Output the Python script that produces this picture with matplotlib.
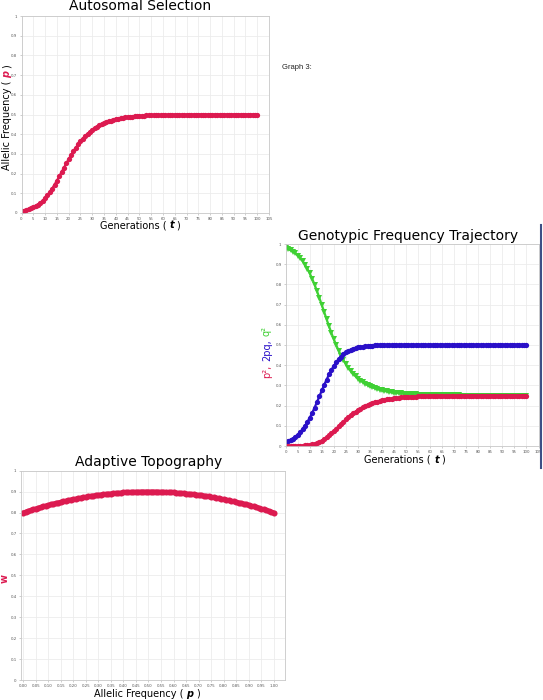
import matplotlib
matplotlib.use("Agg")
import matplotlib.pyplot as plt

# allele frequency p per generation (Autosomal Selection)
generations = list(range(0, 101))
p_freq = [
    0.010, 0.012, 0.015, 0.019, 0.023, 0.029, 0.035, 0.043, 0.052, 0.063,
    0.076, 0.090, 0.106, 0.124, 0.144, 0.164, 0.186, 0.208, 0.230, 0.252,
    0.273, 0.294, 0.313, 0.331, 0.348, 0.364, 0.378, 0.391, 0.402, 0.413,
    0.422, 0.431, 0.438, 0.445, 0.451, 0.456, 0.461, 0.466, 0.469, 0.473,
    0.476, 0.478, 0.481, 0.483, 0.485, 0.487, 0.488, 0.489, 0.491, 0.492,
    0.493, 0.493, 0.494, 0.495, 0.495, 0.496, 0.496, 0.497, 0.497, 0.497,
    0.498, 0.498, 0.498, 0.498, 0.499, 0.499, 0.499, 0.499, 0.499, 0.499,
    0.499, 0.499, 0.499, 0.500, 0.500, 0.500, 0.500, 0.500, 0.500, 0.500,
    0.500, 0.500, 0.500, 0.500, 0.500, 0.500, 0.500, 0.500, 0.500, 0.500,
    0.500, 0.500, 0.500, 0.500, 0.500, 0.500, 0.500, 0.500, 0.500, 0.500,
    0.500,
]

# genotype frequencies (Genotypic Frequency Trajectory)
p_sq = [
    0.000, 0.000, 0.000, 0.000, 0.001, 0.001, 0.001, 0.002, 0.003, 0.004,
    0.006, 0.008, 0.011, 0.015, 0.021, 0.027, 0.035, 0.043, 0.053, 0.064,
    0.075, 0.086, 0.098, 0.110, 0.121, 0.132, 0.143, 0.153, 0.162, 0.170,
    0.178, 0.185, 0.192, 0.198, 0.203, 0.208, 0.213, 0.217, 0.220, 0.223,
    0.226, 0.229, 0.231, 0.233, 0.235, 0.237, 0.238, 0.239, 0.241, 0.242,
    0.243, 0.243, 0.244, 0.245, 0.245, 0.246, 0.246, 0.247, 0.247, 0.247,
    0.248, 0.248, 0.248, 0.248, 0.249, 0.249, 0.249, 0.249, 0.249, 0.249,
    0.249, 0.249, 0.249, 0.250, 0.250, 0.250, 0.250, 0.250, 0.250, 0.250,
    0.250, 0.250, 0.250, 0.250, 0.250, 0.250, 0.250, 0.250, 0.250, 0.250,
    0.250, 0.250, 0.250, 0.250, 0.250, 0.250, 0.250, 0.250, 0.250, 0.250,
    0.250,
]
two_pq = [
    0.020, 0.025, 0.030, 0.037, 0.046, 0.056, 0.068, 0.083, 0.099, 0.119,
    0.140, 0.164, 0.190, 0.218, 0.246, 0.275, 0.303, 0.329, 0.354, 0.377,
    0.397, 0.415, 0.430, 0.443, 0.454, 0.463, 0.470, 0.476, 0.481, 0.485,
    0.488, 0.490, 0.492, 0.494, 0.495, 0.496, 0.497, 0.498, 0.498, 0.499,
    0.499, 0.499, 0.499, 0.499, 0.500, 0.500, 0.500, 0.500, 0.500, 0.500,
    0.500, 0.500, 0.500, 0.500, 0.500, 0.500, 0.500, 0.500, 0.500, 0.500,
    0.500, 0.500, 0.500, 0.500, 0.500, 0.500, 0.500, 0.500, 0.500, 0.500,
    0.500, 0.500, 0.500, 0.500, 0.500, 0.500, 0.500, 0.500, 0.500, 0.500,
    0.500, 0.500, 0.500, 0.500, 0.500, 0.500, 0.500, 0.500, 0.500, 0.500,
    0.500, 0.500, 0.500, 0.500, 0.500, 0.500, 0.500, 0.500, 0.500, 0.500,
    0.500,
]
q_sq = [
    0.980, 0.975, 0.969, 0.962, 0.954, 0.943, 0.930, 0.915, 0.898, 0.877,
    0.854, 0.828, 0.799, 0.767, 0.733, 0.698, 0.663, 0.627, 0.593, 0.559,
    0.528, 0.499, 0.472, 0.447, 0.425, 0.405, 0.387, 0.371, 0.357, 0.345,
    0.334, 0.324, 0.316, 0.308, 0.301, 0.295, 0.290, 0.286, 0.282, 0.278,
    0.275, 0.272, 0.270, 0.267, 0.265, 0.264, 0.262, 0.261, 0.260, 0.258,
    0.258, 0.257, 0.256, 0.255, 0.255, 0.254, 0.254, 0.253, 0.253, 0.253,
    0.252, 0.252, 0.252, 0.252, 0.251, 0.251, 0.251, 0.251, 0.251, 0.251,
    0.251, 0.251, 0.251, 0.250, 0.250, 0.250, 0.250, 0.250, 0.250, 0.250,
    0.250, 0.250, 0.250, 0.250, 0.250, 0.250, 0.250, 0.250, 0.250, 0.250,
    0.250, 0.250, 0.250, 0.250, 0.250, 0.250, 0.250, 0.250, 0.250, 0.250,
    0.250,
]

# mean fitness against allele frequency (Adaptive Topography)
allele_freq = [i / 100 for i in range(101)]
w_bar = [
    0.800, 0.804, 0.808, 0.812, 0.815, 0.819, 0.823, 0.826, 0.829, 0.833,
    0.836, 0.839, 0.842, 0.845, 0.848, 0.851, 0.854, 0.856, 0.859, 0.862,
    0.864, 0.866, 0.869, 0.871, 0.873, 0.875, 0.877, 0.879, 0.881, 0.882,
    0.884, 0.886, 0.887, 0.888, 0.890, 0.891, 0.892, 0.893, 0.894, 0.895,
    0.896, 0.897, 0.897, 0.898, 0.899, 0.899, 0.899, 0.900, 0.900, 0.900,
    0.900, 0.900, 0.900, 0.900, 0.899, 0.899, 0.899, 0.898, 0.897, 0.897,
    0.896, 0.895, 0.894, 0.893, 0.892, 0.891, 0.890, 0.888, 0.887, 0.886,
    0.884, 0.882, 0.881, 0.879, 0.877, 0.875, 0.873, 0.871, 0.869, 0.866,
    0.864, 0.862, 0.859, 0.856, 0.854, 0.851, 0.848, 0.845, 0.842, 0.839,
    0.836, 0.833, 0.829, 0.826, 0.823, 0.819, 0.815, 0.812, 0.808, 0.804,
    0.800,
]

gen_ticks = list(range(0, 106, 5))
y_ticks = [i / 10 for i in range(11)]
y_labels = ["0"] + ["%.1f" % v for v in y_ticks[1:-1]] + ["1"]
p_ticks = [i / 20 for i in range(21)]
p_labels = ["%.2f" % v for v in p_ticks]

RED = "#dc1a50"
BLUE = "#2a10c8"
GREEN = "#3fd034"
W, H = 543, 700

plt.rcParams["font.family"] = ["DejaVu Sans"]
fig = plt.figure(figsize=(W / 100, H / 100), dpi=100)


def px_axes(left, top, right, bottom):
    return fig.add_axes([left / W, 1 - bottom / H, (right - left) / W, (bottom - top) / H])


def style_axes(ax):
    ax.set_facecolor("white")
    for s in ax.spines.values():
        s.set_color("#c8c8c8")
        s.set_linewidth(0.6)
    ax.grid(True, color="#ececec", linewidth=0.6)
    ax.set_axisbelow(True)
    ax.tick_params(labelsize=2.8, labelcolor="#555555", length=1.5, width=0.4,
                   color="#aaaaaa", pad=1.5)
    ax.set_ylim(0, 1)
    ax.set_yticks(y_ticks)
    ax.set_yticklabels(y_labels)


def pieces_text(x, y, pieces, size, vertical=False):
    # draws text pieces one after another, centred on (x, y) in pixels from top-left
    r = fig.canvas.get_renderer()
    items = []
    for s, color, kw, gap in pieces:
        t = fig.text(0, 0, s, color=color, fontsize=size, rotation=90 if vertical else 0,
                     rotation_mode="anchor", ha="left", va="baseline", **kw)
        bb = t.get_window_extent(r)
        items.append((t, (bb.height if vertical else bb.width) + gap))
    total = sum(L for _, L in items) - pieces[-1][3]
    pos = -total / 2
    for t, L in items:
        if vertical:
            t.set_position((x / W, (H - y + pos) / H))
        else:
            t.set_position(((x + pos) / W, 1 - y / H))
        pos += L


bi = {"fontweight": "bold", "fontstyle": "italic"}

# Autosomal Selection
ax1 = px_axes(21.5, 16, 269, 213)
style_axes(ax1)
ax1.plot(generations, p_freq, color=RED, marker="o", markersize=3.8, linewidth=1.6,
         markeredgewidth=0)
ax1.set_xlim(0, 105)
ax1.set_xticks(gen_ticks)
fig.text(140 / W, 1 - 10 / H, "Autosomal Selection", fontsize=10, ha="center", va="baseline")
pieces_text(140, 228.5, [("Generations (", "black", {}, 3), ("t", "black", bi, 3),
                         (")", "black", {}, 0)], 7)
pieces_text(10, 117, [("Allelic Frequency (", "black", {}, 3), ("p", RED, bi, 3),
                      (")", "black", {}, 0)], 7, vertical=True)

fig.text(282 / W, 1 - 69 / H, "Graph 3:", fontsize=5.5, family="Liberation Sans",
         ha="left", va="baseline", color="#222222")

# Genotypic Frequency Trajectory
ax2 = px_axes(285.7, 244, 538.5, 446)
style_axes(ax2)
ax2.plot(generations, q_sq, color=GREEN, marker="v", markersize=3.8, linewidth=1.6,
         markeredgewidth=0)
ax2.plot(generations, two_pq, color=BLUE, marker="o", markersize=3.8, linewidth=1.6,
         markeredgewidth=0)
ax2.plot(generations, p_sq, color=RED, marker="o", markersize=3.8, linewidth=1.6,
         markeredgewidth=0)
ax2.set_xlim(0, 105)
ax2.set_xticks(gen_ticks)
fig.text(408 / W, 1 - 240 / H, "Genotypic Frequency Trajectory", fontsize=10,
         ha="center", va="baseline")
pieces_text(405, 463, [("Generations (", "black", {}, 3), ("t", "black", bi, 3),
                       (")", "black", {}, 0)], 7)
pieces_text(270, 352, [("p²,", RED, {}, 4), ("2pq,", BLUE, {}, 4), ("q²", GREEN, {}, 0)],
            7, vertical=True)
fig.add_artist(plt.Line2D([541 / W, 541 / W], [1 - 225 / H, 1 - 468 / H],
                          color="#3d4f86", linewidth=1.5))

# Adaptive Topography
ax3 = px_axes(20.7, 470.7, 285, 680)
style_axes(ax3)
ax3.plot(allele_freq, w_bar, color=RED, marker="o", markersize=4.4, linewidth=3,
         markeredgewidth=0)
ax3.set_xlim(-0.01, 1.045)
ax3.set_xticks(p_ticks)
ax3.set_xticklabels(p_labels)
fig.text(149 / W, 1 - 466 / H, "Adaptive Topography", fontsize=10, ha="center",
         va="baseline")
pieces_text(147, 697, [("Allelic Frequency (", "black", {}, 3), ("p", "black", bi, 3),
                       (")", "black", {}, 0)], 7)
fig.text(5 / W, 1 - 578 / H, r"$\overline{\mathbf{w}}$", color=RED, fontsize=7,
         rotation=90, ha="center", va="center")

fig.savefig("out.png", dpi=100, facecolor="white")
